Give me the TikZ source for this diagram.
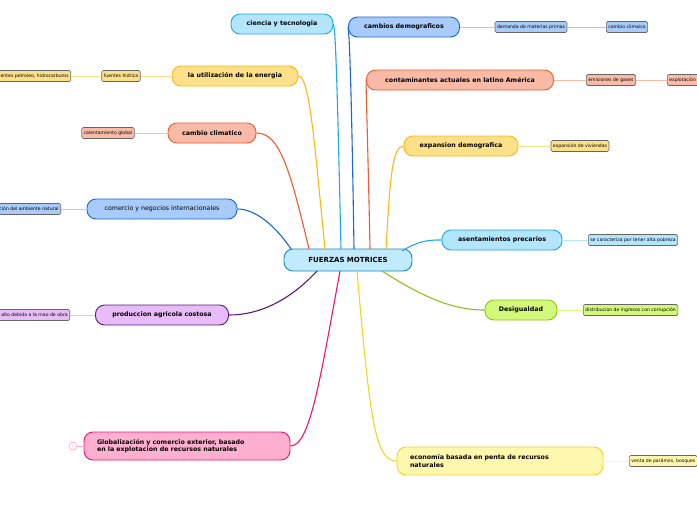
\documentclass[tikz,border=0pt]{standalone}
\usepackage{fontspec}
\setmainfont{DejaVu Sans}
\begin{document}
\begin{tikzpicture}[x=1pt,y=-1pt,
 main/.style={rounded corners=9pt,draw,line width=0.9pt,font=\bfseries\fontsize{6.3}{7.5}\selectfont,inner sep=0pt,minimum height=20pt},
 sub/.style={rounded corners=1.5pt,draw=gray!80!black,line width=0.6pt,font=\fontsize{4.6}{5}\selectfont,inner sep=2pt,minimum height=11pt},
 br/.style={line width=1.1pt},
 lk/.style={line width=0.9pt}]
\useasboundingbox (0,0) rectangle (697,520);
\definecolor{cyF}{HTML}{B3E5FC}\definecolor{cyD}{HTML}{1EA8E8}
\definecolor{blF}{HTML}{A8CBFA}\definecolor{blD}{HTML}{1A66D6}
\definecolor{orF}{HTML}{F9BBA8}\definecolor{orD}{HTML}{EE5B2E}
\definecolor{yeF}{HTML}{FEE08A}\definecolor{yeD}{HTML}{FDB813}
\definecolor{grF}{HTML}{D3F97A}\definecolor{grD}{HTML}{8CC21E}
\definecolor{ylF}{HTML}{FFF7AE}\definecolor{ylD}{HTML}{F0D42A}
\definecolor{piF}{HTML}{FFB0D0}\definecolor{piD}{HTML}{F0146E}
\definecolor{puF}{HTML}{E8BCF8}\definecolor{puD}{HTML}{5B1A7A}
% center
\node[main,fill=cyF!80!white,draw=cyD!80!black,minimum width=128pt,minimum height=22pt,font=\bfseries\fontsize{7}{8}\selectfont] (c) at (348,260) {FUERZAS MOTRICES};
% main nodes
\node[main,fill=cyF,draw=cyD,minimum width=102pt] (cie) at (282,24) {ciencia y tecnologia};
\node[main,fill=blF,draw=blD,minimum width=111pt] (dem) at (404,27) {cambios demograficos};
\node[main,fill=orF,draw=orD,minimum width=187pt] (con) at (460,80) {contaminantes actuales en latino América};
\node[main,fill=yeF,draw=yeD,minimum width=114pt] (exp) at (461,146) {expansion demografica};
\node[main,fill=cyF,draw=cyD,minimum width=120pt] (ase) at (502,240) {asentamientos precarios};
\node[main,fill=grF,draw=grD,minimum width=72pt] (des) at (521,310) {Desigualdad};
\node[main,fill=ylF,draw=ylD,minimum width=206pt,minimum height=28pt,align=left,text width=180pt] (eco) at (500,461) {economía basada en penta de recursos\\naturales};
\node[main,fill=piF,draw=piD,minimum width=206pt,minimum height=28pt,align=left,text width=180pt] (glo) at (187,446) {Globalización y comercio exterior, basado\\en la explotacion de recursos naturales};
\node[main,fill=puF,draw=puD,minimum width=133pt] (pro) at (162,315) {produccion agricola costosa};
\node[main,fill=blF,draw=blD,minimum width=150pt,font=\fontsize{6.3}{7.5}\selectfont] (com) at (162,209) {comercio y negocios internacionales};
\node[main,fill=orF,draw=orD,minimum width=88pt] (cli) at (212,133) {cambio climatico};
\node[main,fill=yeF,draw=yeD,minimum width=126pt] (ene) at (235,76) {la utilización de la energia};
% sub nodes
\node[sub,fill=blF] (s1) at (531,27) {demanda de materias primas};
\node[sub,fill=blF] (s2) at (627,27) {cambio climaico};
\node[sub,fill=orF] (s3) at (611,80) {emisiones de gases};
\node[sub,fill=orF,anchor=west,text width=60pt] (s4) at (667,80) {explotación de recursos};
\node[sub,fill=yeF] (s5) at (580,146) {expansión de viviendas};
\node[sub,fill=cyF,anchor=west] (s6) at (588,240) {se caracteriza por tener alta pobreza};
\node[sub,fill=grF,anchor=west] (s7) at (583,310) {distribucion de ingresos con corrupción};
\node[sub,fill=ylF,anchor=west] (s8) at (629,461) {venta de parámos, bosques};
\node[sub,fill=puF,anchor=east] (s9) at (70,315) {precio alto debido a la mao de obra};
\node[sub,fill=blF,anchor=east] (s10) at (61,209) {destrucción del ambiente natural};
\node[sub,fill=orF] (s11) at (108,133) {calentamiento global};
\node[sub,fill=yeF] (s12) at (121,76) {fuentes hidrica};
\node[sub,fill=yeF,anchor=east] (s13) at (71,76) {fuentes petroleo, hidrocarburos};
\node[circle,draw=piD!40,line width=0.6pt,inner sep=0.5pt,minimum size=8pt,font=\fontsize{3.5}{4}\selectfont,text=piD!50] (n1) at (73,446) {1};
% branches
\draw[br,cyD] (341,249) .. controls (338,120) and (336,30) .. (cie.east);
\draw[br,blD] (354,249) .. controls (352,120) and (350,40) .. (dem.west);
\draw[br,orD] (370,249) .. controls (368,150) and (366,90) .. (con.west);
\draw[br,yeD] (386,249) .. controls (390,180) and (392,146) .. (exp.west);
\draw[br,cyD] (402,251) .. controls (420,240) and (430,240) .. (ase.west);
\draw[br,grD] (382,271) .. controls (420,295) and (450,310) .. (des.west);
\draw[br,ylD] (357,271) .. controls (370,420) and (375,461) .. (eco.west);
\draw[br,piD] (340,271) .. controls (320,380) and (310,446) .. (glo.east);
\draw[br,puD] (317,271) .. controls (290,300) and (260,315) .. (pro.east);
\draw[br,blD] (291,249) .. controls (275,225) and (255,209) .. (com.east);
\draw[br,orD] (309,249) .. controls (290,170) and (280,133) .. (cli.east);
\draw[br,yeD] (325,249) .. controls (315,150) and (310,76) .. (ene.east);
% links
\draw[lk,blF] (dem.east) -- (s1.west); \draw[lk,blF] (s1.east) -- (s2.west);
\draw[lk,orF] (con.east) -- (s3.west); \draw[lk,orF] (s3.east) -- (s4.west);
\draw[lk,yeF] (exp.east) -- (s5.west);
\draw[lk,cyF] (ase.east) -- (s6.west);
\draw[lk,grF] (des.east) -- (s7.west);
\draw[lk,ylF] (eco.east) -- (s8.west);
\draw[lk,puF] (pro.west) -- (s9.east);
\draw[lk,blF] (com.west) -- (s10.east);
\draw[lk,orF] (cli.west) -- (s11.east);
\draw[lk,yeF] (ene.west) -- (s12.east); \draw[lk,yeF] (s12.west) -- (s13.east);
\draw[lk,piF] (glo.west) -- (n1.east);
\end{tikzpicture}
\end{document}
